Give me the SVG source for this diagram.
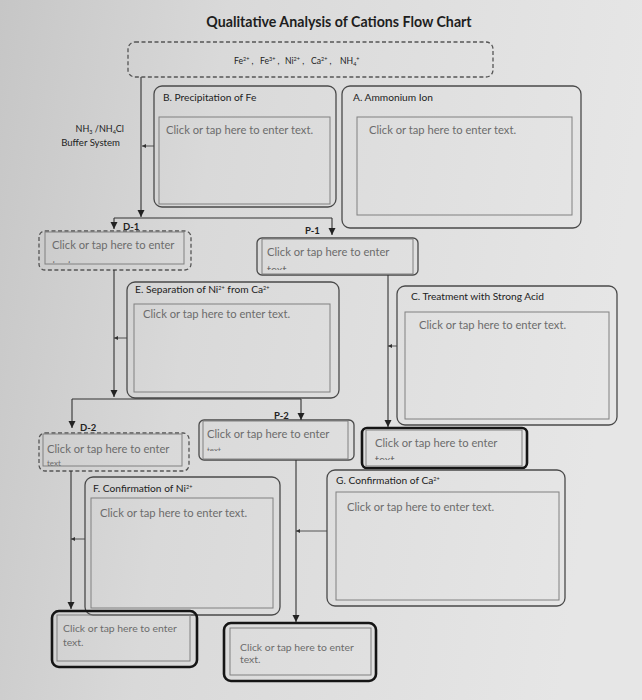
<svg xmlns="http://www.w3.org/2000/svg" width="642" height="700" viewBox="0 0 642 700">
<defs>
<style>
.outer{fill:none;stroke:#4a4a4a;stroke-width:1.3}
.inner{fill:none;stroke:#808080;stroke-width:1}
.thick{fill:none;stroke:#151515;stroke-width:2.6}
.dash{fill:none;stroke:#555;stroke-width:1.3;stroke-dasharray:4 2.5}
.conn{fill:none;stroke:#333;stroke-width:1.1}
.side{fill:none;stroke:#444;stroke-width:0.9}
.title{font-family:Lato,"Liberation Sans",sans-serif;font-size:14.2px;font-weight:bold;fill:#1e1e1e}
.hd{font-family:Lato,"Liberation Sans",sans-serif;font-size:10.2px;fill:#222}
.lbl{font-family:Lato,"Liberation Sans",sans-serif;font-size:9.5px;fill:#222;font-weight:bold}
.ph{font-family:Lato,"Liberation Sans",sans-serif;font-size:11.2px;fill:#6c6c6c}
.ion{font-family:Lato,"Liberation Sans",sans-serif;font-size:8.6px;fill:#222}
.sup{font-size:5.5px}
</style>
<linearGradient id="bg" x1="0" y1="0" x2="1" y2="0.15">
<stop offset="0" stop-color="#c6c6c6"/>
<stop offset="0.35" stop-color="#d9d9d9"/>
<stop offset="1" stop-color="#e6e6e6"/>
</linearGradient>
<marker id="arr" viewBox="0 0 10 10" refX="10" refY="5" markerWidth="7.5" markerHeight="8" markerUnits="userSpaceOnUse" orient="auto">
<path d="M0,0 L10,5 L0,10 z" fill="#222"/>
</marker>
<marker id="sm" viewBox="0 0 10 10" refX="10" refY="5" markerWidth="5" markerHeight="4" markerUnits="userSpaceOnUse" orient="auto">
<path d="M0,0 L10,5 L0,10 z" fill="#333"/>
</marker>
<clipPath id="cD1"><rect x="45" y="232" width="139" height="31"/></clipPath>
<clipPath id="cP1"><rect x="262" y="238" width="151" height="32"/></clipPath>
<clipPath id="cD2"><rect x="43" y="433" width="139" height="33"/></clipPath>
<clipPath id="cP2"><rect x="203" y="421" width="146" height="30"/></clipPath>
<clipPath id="cT1"><rect x="366" y="430" width="156" height="30"/></clipPath>
</defs>

<rect x="0" y="0" width="642" height="700" fill="url(#bg)"/>

<text class="title" x="339" y="27" text-anchor="middle">Qualitative Analysis of Cations Flow Chart</text>

<g id="ions">
<rect class="dash" x="128" y="42" width="365" height="35" rx="7"/>
<text class="ion" y="64"><tspan x="234">Fe</tspan><tspan class="sup" dy="-3">2+</tspan><tspan dy="3">  ,</tspan><tspan x="260">Fe</tspan><tspan class="sup" dy="-3">3+</tspan><tspan dy="3">  ,</tspan><tspan x="285">Ni</tspan><tspan class="sup" dy="-3">2+</tspan><tspan dy="3">  ,</tspan><tspan x="311">Ca</tspan><tspan class="sup" dy="-3">2+</tspan><tspan dy="3">  ,</tspan><tspan x="340">NH</tspan><tspan class="sup" dy="2">4</tspan><tspan class="sup" dy="-5">+</tspan></text>
</g>

<g id="buffer-label">
<text class="ion" x="124" y="132" text-anchor="end" style="font-size:9px">NH<tspan class="sup" dy="2">3</tspan><tspan dy="-2">  /NH</tspan><tspan class="sup" dy="2">4</tspan><tspan dy="-2">Cl</tspan></text>
<text class="ion" x="120" y="146" text-anchor="end" style="font-size:9.6px">Buffer System</text>
</g>

<g id="boxB">
<rect class="outer" x="154" y="86" width="182" height="121" rx="8"/>
<rect class="inner" x="159" y="117" width="171" height="87"/>
<text class="hd" x="163" y="101">B. Precipitation of Fe</text>
<text class="ph" x="166" y="134">Click or tap here to enter text.</text>
</g>

<g id="boxA">
<rect class="outer" x="342" y="86" width="239" height="142" rx="8"/>
<rect class="inner" x="357" y="117" width="215" height="98"/>
<text class="hd" x="353" y="101">A. Ammonium Ion</text>
<text class="ph" x="369" y="134">Click or tap here to enter text.</text>
</g>

<g id="boxD1">
<rect class="dash" x="39" y="231" width="152" height="39" rx="6"/>
<rect class="inner" x="45" y="232" width="139" height="32"/>
<text class="ph" x="52" y="249">Click or tap here to enter</text>
<text class="ph" x="52" y="269" clip-path="url(#cD1)">text</text>
</g>

<g id="boxP1">
<rect class="outer" x="257" y="238" width="161" height="37" rx="5"/>
<rect class="inner" x="262" y="239" width="151" height="35"/>
<text class="ph" x="267" y="256">Click or tap here to enter</text>
<text class="ph" x="267" y="274" clip-path="url(#cP1)">text</text>
</g>

<g id="boxE">
<rect class="outer" x="127" y="282" width="212" height="116" rx="8"/>
<rect class="inner" x="134" y="304" width="196" height="88"/>
<text class="hd" x="135" y="293">E. Separation of Ni<tspan class="sup" dy="-3">2+</tspan><tspan dy="3"> from Ca</tspan><tspan class="sup" dy="-3">2+</tspan></text>
<text class="ph" x="143" y="318">Click or tap here to enter text.</text>
</g>

<g id="boxC">
<rect class="outer" x="397" y="286" width="220" height="139" rx="8"/>
<rect class="inner" x="405" y="312" width="204" height="107"/>
<text class="hd" x="411" y="300">C. Treatment with Strong Acid</text>
<text class="ph" x="419" y="329">Click or tap here to enter text.</text>
</g>

<g id="boxD2">
<rect class="dash" x="39" y="433" width="150" height="38" rx="6"/>
<rect class="inner" x="43" y="434" width="139" height="32"/>
<text class="ph" x="47" y="453">Click or tap here to enter</text>
<text class="ph" x="47" y="466" style="font-size:8px" clip-path="url(#cD2)">text</text>
</g>

<g id="boxP2">
<rect class="outer" x="199" y="420" width="155" height="40" rx="5"/>
<rect class="inner" x="203" y="421" width="145" height="38"/>
<text class="ph" x="207" y="438">Click or tap here to enter</text>
<text class="ph" x="207" y="453" style="font-size:8px" clip-path="url(#cP2)">text</text>
</g>

<g id="boxT1">
<rect class="thick" x="362" y="428" width="165" height="40" rx="5"/>
<rect class="inner" x="366" y="430" width="156" height="36"/>
<text class="ph" x="375" y="447">Click or tap here to enter</text>
<text class="ph" x="375" y="464" clip-path="url(#cT1)">text</text>
</g>

<g id="boxG">
<rect class="outer" x="327" y="470" width="238" height="136" rx="8"/>
<rect class="inner" x="336" y="492" width="223" height="108"/>
<text class="hd" x="336" y="484">G. Confirmation of Ca<tspan class="sup" dy="-3">2+</tspan></text>
<text class="ph" x="347" y="511">Click or tap here to enter text.</text>
</g>

<g id="boxF">
<rect class="outer" x="85" y="477" width="195" height="138" rx="8"/>
<rect class="inner" x="91" y="498" width="182" height="110"/>
<text class="hd" x="93" y="492">F. Confirmation of Ni<tspan class="sup" dy="-3">2+</tspan></text>
<text class="ph" x="100" y="517">Click or tap here to enter text.</text>
</g>

<g id="boxBL">
<rect class="thick" x="52" y="611" width="145" height="56" rx="7"/>
<rect class="inner" x="57" y="615" width="133" height="46"/>
<text class="ph" x="63" y="632" style="font-size:10.4px">Click or tap here to enter</text>
<text class="ph" x="63" y="646" style="font-size:10.4px">text.</text>
</g>

<g id="boxBR">
<rect class="thick" x="224" y="623" width="152" height="58" rx="7"/>
<rect class="inner" x="230" y="628" width="141" height="47"/>
<text class="ph" x="240" y="651" style="font-size:10.4px">Click or tap here to enter</text>
<text class="ph" x="240" y="663" style="font-size:10.4px">text.</text>
</g>

<g id="connectors">
<path class="conn" d="M141,77 V217" marker-end="url(#arr)"/>
<path class="conn" d="M114,218 H332"/>
<path class="conn" d="M114,218 V229" marker-end="url(#arr)"/>
<path class="conn" d="M332,218 V235" marker-end="url(#arr)"/>
<path class="side" d="M154,146 H142" marker-end="url(#sm)"/>
<path class="conn" d="M114,270 V397" marker-end="url(#arr)"/>
<path class="side" d="M127,338 H114" marker-end="url(#sm)"/>
<path class="conn" d="M72,399 H301"/>
<path class="conn" d="M72,399 V428" marker-end="url(#arr)"/>
<path class="conn" d="M301,399 V420" marker-end="url(#arr)"/>
<path class="conn" d="M388,275 V427" marker-end="url(#arr)"/>
<path class="side" d="M397,346 H388" marker-end="url(#sm)"/>
<path class="conn" d="M71,471 V609" marker-end="url(#arr)"/>
<path class="side" d="M85,539 H71" marker-end="url(#sm)"/>
<path class="conn" d="M296,460 V622" marker-end="url(#arr)"/>
<path class="side" d="M327,531 H296" marker-end="url(#sm)"/>
<text class="lbl" x="123" y="230">D-1</text>
<text class="lbl" x="305" y="234">P-1</text>
<text class="lbl" x="80" y="431">D-2</text>
<text class="lbl" x="274" y="419">P-2</text>
</g>
</svg>
